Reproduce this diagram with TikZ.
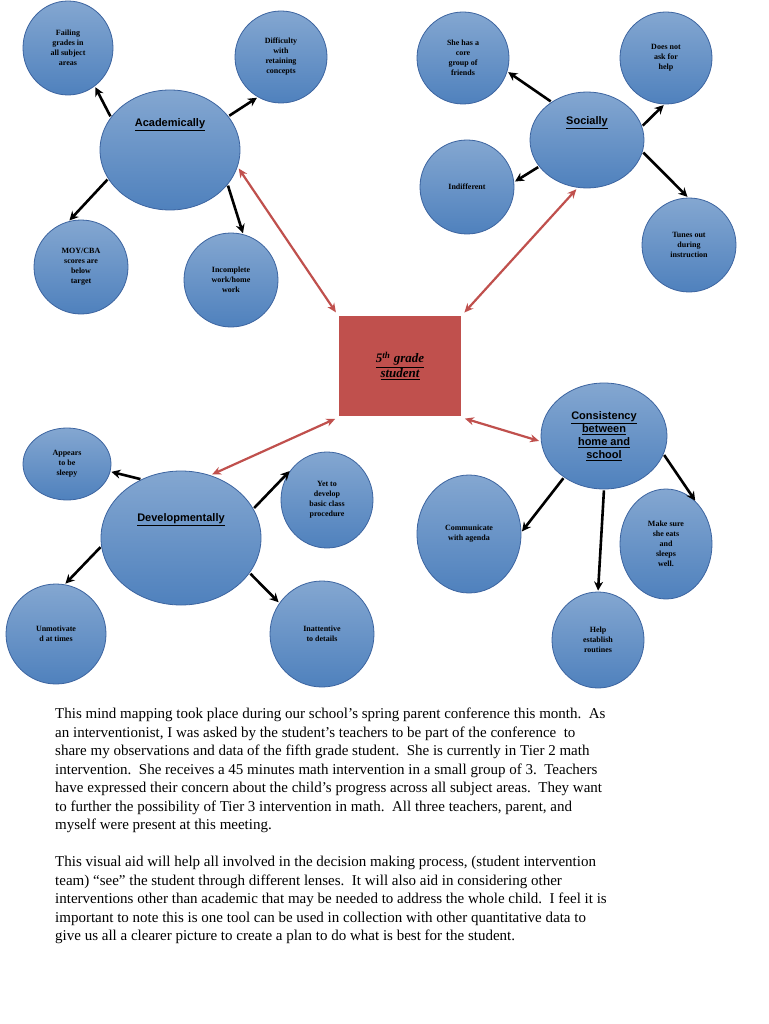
\documentclass[tikz,border=0pt]{standalone}
\usepackage{fontspec}
\setmainfont{Liberation Serif}
\setsansfont{Liberation Sans}
\usetikzlibrary{arrows.meta,shapes.geometric}
\definecolor{ballblue}{RGB}{79,129,189}
\definecolor{balledge}{RGB}{60,100,160}
\definecolor{boxred}{RGB}{192,80,77}
\definecolor{linkred}{RGB}{192,80,77}
\tikzset{
  leaf/.style={ellipse, draw=balledge, line width=0.8pt, top color=ballblue!70!white, bottom color=ballblue,
    align=center, inner sep=0pt, font=\fontsize{8}{10}\selectfont\bfseries},
  hub/.style={leaf, font=\sffamily\fontsize{11}{13}\selectfont\bfseries},
  kid/.style={-{Stealth[length=9pt,width=9pt]}, line width=2.6pt, shorten <=1pt, shorten >=1pt},
  link/.style={{Stealth[length=9pt,width=8pt]}-{Stealth[length=9pt,width=8pt]}, draw=linkred, line width=2.2pt, shorten <=2pt, shorten >=2pt}
}
\begin{document}
\begin{tikzpicture}[x=1pt,y=-1pt]
\useasboundingbox[fill=white] (0,0) rectangle (768,1024);
% centre
\node[rectangle, fill=boxred, draw=white, line width=2pt, minimum width=124pt, minimum height=102pt,
  align=center, font=\fontsize{13}{15}\selectfont\bfseries\itshape] (stud) at (400,366)
  {\underline{5\textsuperscript{th} grade}\\\underline{student}};
% academic
\node[hub, minimum width=140pt, minimum height=120pt] (acad) at (170,150) {\raisebox{54pt}{\underline{Academically}}};
\node[leaf, minimum width=90pt, minimum height=94pt] (fail) at (68,48) {Failing\\grades in\\all subject\\areas};
\node[leaf, minimum width=92pt, minimum height=92pt] (diff) at (281,57) {Difficulty\\with\\retaining\\concepts};
\node[leaf, minimum width=94pt, minimum height=94pt] (moy) at (81,267) {MOY/CBA\\scores are\\below\\target};
\node[leaf, minimum width=94pt, minimum height=94pt] (inc) at (231,280) {Incomplete\\work/home\\work};
% social
\node[hub, minimum width=114pt, minimum height=96pt] (soc) at (587,140) {\raisebox{38pt}{\underline{Socially}}};
\node[leaf, minimum width=92pt, minimum height=92pt] (core) at (463,58) {She has a\\core\\group of\\friends};
\node[leaf, minimum width=92pt, minimum height=92pt] (ask) at (666,58) {Does not\\ask for\\help};
\node[leaf, minimum width=94pt, minimum height=94pt] (indf) at (467,187) {Indifferent};
\node[leaf, minimum width=94pt, minimum height=94pt] (tune) at (689,245) {Tunes out\\during\\instruction};
% consistency
\node[hub, minimum width=126pt, minimum height=106pt] (cons) at (604,436) {\underline{Consistency}\\\underline{between}\\\underline{home and}\\\underline{school}};
\node[leaf, minimum width=104pt, minimum height=118pt] (comm) at (469,534) {Communicate\\with agenda};
\node[leaf, minimum width=92pt, minimum height=110pt] (make) at (666,544) {Make sure\\she eats\\and\\sleeps\\well.};
\node[leaf, minimum width=92pt, minimum height=96pt] (rout) at (598,640) {Help\\establish\\routines};
% developmental
\node[hub, minimum width=160pt, minimum height=134pt] (dev) at (181,538) {\raisebox{40pt}{\underline{Developmentally}}};
\node[leaf, minimum width=88pt, minimum height=72pt] (sleep) at (67,464) {Appears\\to be\\sleepy};
\node[leaf, minimum width=92pt, minimum height=96pt] (yet) at (327,500) {Yet to\\develop\\basic class\\procedure};
\node[leaf, minimum width=100pt, minimum height=100pt] (unm) at (56,634) {Unmotivate\\d at times};
\node[leaf, minimum width=104pt, minimum height=106pt] (inat) at (322,634) {Inattentive\\to details};
% arrows
\draw[kid] (acad.151) -- (fail.-55);
\draw[kid] (acad.30) -- (diff.-120);
\draw[kid] (acad.-155) -- (moy.105);
\draw[kid] (acad.-31) -- (inc.75);
\draw[kid] (soc.133) -- (core.-17);
\draw[kid] (soc.14) -- (ask.-92);
\draw[kid] (soc.-151) -- (indf.6);
\draw[kid] (soc.-12) -- (tune.91);
\draw[kid] (cons.-134) -- (comm.2);
\draw[kid] (cons.-17) -- (make.55);
\draw[kid] (cons.-90) -- (rout.90);
\draw[kid] (dev.124) -- (sleep.-10);
\draw[kid] (dev.22) -- (yet.141);
\draw[kid] (dev.-174) -- (unm.80);
\draw[kid] (dev.-27) -- (inat.144);
\draw[link] (stud.north west) -- (acad.-14);
\draw[link] (stud.north east) -- (soc.-101);
\draw[link] (stud.south east) -- (cons.-175);
\draw[link] (stud.south west) -- (dev.65);
% text
\node[anchor=north west, align=left, inner sep=0pt, font=\fontsize{15}{18.5}\selectfont] (txt) at (55,708)
{This mind mapping took place during our school’s spring parent conference this month.\ \ As\\
an interventionist, I was asked by the student’s teachers to be part of the conference\ \ to\\
share my observations and data of the fifth grade student.\ \ She is currently in Tier 2 math\\
intervention.\ \ She receives a 45 minutes math intervention in a small group of 3.\ \ Teachers\\
have expressed their concern about the child’s progress across all subject areas.\ \ They want\\
to further the possibility of Tier 3 intervention in math.\ \ All three teachers, parent, and\\
myself were present at this meeting.\\[18.5pt]
This visual aid will help all involved in the decision making process, (student intervention\\
team) “see” the student through different lenses.\ \ It will also aid in considering other\\
interventions other than academic that may be needed to address the whole child.\ \ I feel it is\\
important to note this is one tool can be used in collection with other quantitative data to\\
give us all a clearer picture to create a plan to do what is best for the student.};
\end{tikzpicture}
\end{document}
